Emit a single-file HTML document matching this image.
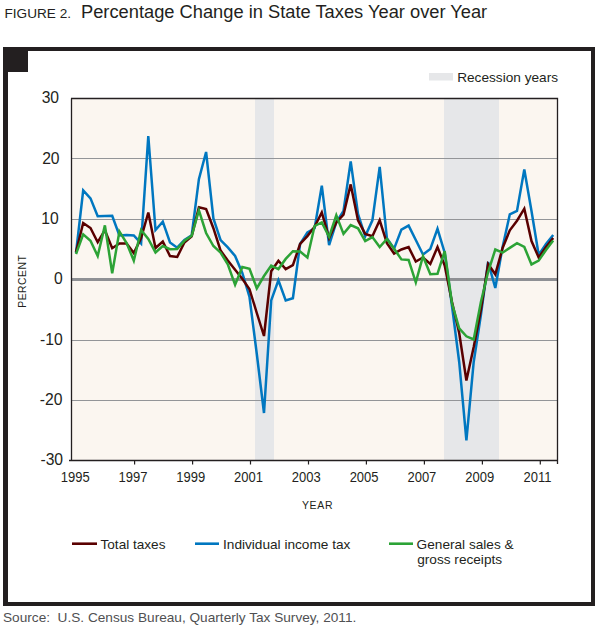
<!DOCTYPE html>
<html><head><meta charset="utf-8"><style>
html,body{margin:0;padding:0;background:#fff;}
body{width:598px;height:626px;overflow:hidden;}
svg{display:block;font-family:"Liberation Sans", sans-serif;}
</style></head><body>
<svg width="598" height="626" viewBox="0 0 598 626">
<path d="M3,47H595V606H3Z M8,51V602H591V51Z" fill="#231f20" fill-rule="evenodd"/>
<rect x="3" y="47" width="25" height="25" fill="#231f20"/>
<rect x="71.5" y="98.5" width="486" height="362" fill="#fbf6f0"/>
<rect x="255" y="98.5" width="19" height="362" fill="#e6e7e9"/>
<rect x="444" y="98.5" width="55" height="362" fill="#e6e7e9"/>
<line x1="71.5" y1="158.5" x2="557.5" y2="158.5" stroke="#939598" stroke-width="1"/>
<line x1="71.5" y1="219.5" x2="557.5" y2="219.5" stroke="#939598" stroke-width="1"/>
<line x1="71.5" y1="340.5" x2="557.5" y2="340.5" stroke="#939598" stroke-width="1"/>
<line x1="71.5" y1="400.5" x2="557.5" y2="400.5" stroke="#939598" stroke-width="1"/>
<line x1="71.5" y1="279.5" x2="557.5" y2="279.5" stroke="#8e9094" stroke-width="3"/>
<path d="M69,460.5 H557.5 M71.5,98.5 V460.5 M71,98.5 H557.5 V464" fill="none" stroke="#231f20" stroke-width="1.3"/>
<line x1="134.6" y1="460" x2="134.6" y2="464.5" stroke="#231f20" stroke-width="1.2"/>
<line x1="192.6" y1="460" x2="192.6" y2="464.5" stroke="#231f20" stroke-width="1.2"/>
<line x1="250.5" y1="460" x2="250.5" y2="464.5" stroke="#231f20" stroke-width="1.2"/>
<line x1="308.5" y1="460" x2="308.5" y2="464.5" stroke="#231f20" stroke-width="1.2"/>
<line x1="366.4" y1="460" x2="366.4" y2="464.5" stroke="#231f20" stroke-width="1.2"/>
<line x1="424.4" y1="460" x2="424.4" y2="464.5" stroke="#231f20" stroke-width="1.2"/>
<line x1="482.4" y1="460" x2="482.4" y2="464.5" stroke="#231f20" stroke-width="1.2"/>
<line x1="540.3" y1="460" x2="540.3" y2="464.5" stroke="#231f20" stroke-width="1.2"/>
<polyline points="76.0,253.0 83.2,190.4 90.5,198.4 97.7,216.3 104.9,216.0 112.2,215.7 119.4,235.5 126.6,235.0 133.8,235.5 141.1,243.4 148.3,136.0 155.5,230.0 162.8,221.7 170.0,242.5 177.2,247.7 184.4,240.0 191.7,235.2 198.9,179.2 206.1,152.0 213.4,218.5 220.6,240.1 227.8,247.4 235.1,256.0 242.3,273.0 249.5,297.0 256.8,354.0 264.0,413.0 271.2,300.4 278.4,280.3 285.7,300.4 292.9,298.2 300.1,244.0 307.4,232.5 314.6,228.2 321.8,185.6 329.1,245.2 336.3,222.4 343.5,211.0 350.7,161.4 358.0,214.0 365.2,236.3 372.4,220.3 379.7,166.9 386.9,238.3 394.1,248.7 401.4,229.6 408.6,225.6 415.8,240.0 423.0,254.5 430.3,249.0 437.5,228.8 444.7,252.7 452.0,306.0 459.2,362.0 466.4,440.4 473.7,362.0 480.9,315.0 488.1,262.0 495.3,288.0 502.6,247.0 509.8,214.4 517.0,211.0 524.3,169.5 531.5,211.0 538.7,255.0 546.0,244.0 553.2,235.0" fill="none" stroke="#0077c0" stroke-width="2.5" stroke-linejoin="miter" stroke-miterlimit="4"/>
<polyline points="76.0,252.0 83.2,223.0 90.5,228.0 97.7,242.2 104.9,230.2 112.2,248.2 119.4,243.4 126.6,243.4 133.8,253.0 141.1,238.0 148.3,212.5 155.5,248.0 162.8,241.5 170.0,256.0 177.2,257.0 184.4,242.5 191.7,236.4 198.9,207.3 206.1,209.0 213.4,228.2 220.6,250.6 227.8,260.5 235.1,269.7 242.3,278.7 249.5,289.2 256.8,313.0 264.0,336.0 271.2,271.3 278.4,260.7 285.7,269.1 292.9,265.2 300.1,244.0 307.4,236.1 314.6,226.7 321.8,212.4 329.1,238.2 336.3,222.4 343.5,214.7 350.7,184.4 358.0,220.3 365.2,233.9 372.4,236.3 379.7,220.3 386.9,243.1 394.1,253.5 401.4,249.5 408.6,247.1 415.8,261.5 423.0,257.5 430.3,263.9 437.5,247.1 444.7,265.5 452.0,302.0 459.2,333.0 466.4,380.5 473.7,347.0 480.9,310.0 488.1,264.0 495.3,274.3 502.6,248.0 509.8,230.3 517.0,220.7 524.3,208.7 531.5,241.0 538.7,257.5 546.0,247.0 553.2,238.0" fill="none" stroke="#5a0000" stroke-width="2.5" stroke-linejoin="miter" stroke-miterlimit="4"/>
<polyline points="76.0,254.0 83.2,234.3 90.5,240.7 97.7,256.0 104.9,225.4 112.2,273.3 119.4,231.4 126.6,243.0 133.8,260.7 141.1,230.0 148.3,239.0 155.5,252.4 162.8,246.0 170.0,249.2 177.2,248.9 184.4,240.8 191.7,235.8 198.9,210.4 206.1,233.0 213.4,246.0 220.6,252.7 227.8,264.3 235.1,284.8 242.3,267.0 249.5,268.8 256.8,288.3 264.0,276.0 271.2,265.6 278.4,269.1 285.7,258.9 292.9,251.2 300.1,251.5 307.4,257.6 314.6,226.0 321.8,222.4 329.1,236.8 336.3,215.3 343.5,233.9 350.7,225.1 358.0,228.3 365.2,241.1 372.4,237.1 379.7,247.1 386.9,239.0 394.1,248.7 401.4,259.4 408.6,259.9 415.8,282.3 423.0,256.2 430.3,274.3 437.5,273.8 444.7,251.1 452.0,303.5 459.2,328.4 466.4,336.3 473.7,339.5 480.9,302.0 488.1,272.0 495.3,249.5 502.6,252.7 509.8,247.9 517.0,243.1 524.3,247.0 531.5,264.4 538.7,260.6 546.0,250.0 553.2,240.5" fill="none" stroke="#2ca336" stroke-width="2.5" stroke-linejoin="miter" stroke-miterlimit="4"/>
<text x="59.1" y="103.0" text-anchor="end" font-size="15.7" fill="#231f20">30</text>
<text x="59.6" y="164.0" text-anchor="end" font-size="15.7" fill="#231f20">20</text>
<text x="58.7" y="224.0" text-anchor="end" font-size="15.7" fill="#231f20">10</text>
<text x="62.8" y="284.0" text-anchor="end" font-size="15.7" fill="#231f20">0</text>
<text x="62.8" y="344.6" text-anchor="end" font-size="15.7" fill="#231f20">-10</text>
<text x="62.4" y="404.6" text-anchor="end" font-size="15.7" fill="#231f20">-20</text>
<text x="63.1" y="464.6" text-anchor="end" font-size="15.7" fill="#231f20">-30</text>
<text transform="translate(75.2,482) scale(1,1.07)" text-anchor="middle" font-size="13" fill="#231f20">1995</text>
<text transform="translate(133.0,482) scale(1,1.07)" text-anchor="middle" font-size="13" fill="#231f20">1997</text>
<text transform="translate(190.8,482) scale(1,1.07)" text-anchor="middle" font-size="13" fill="#231f20">1999</text>
<text transform="translate(248.5,482) scale(1,1.07)" text-anchor="middle" font-size="13" fill="#231f20">2001</text>
<text transform="translate(306.3,482) scale(1,1.07)" text-anchor="middle" font-size="13" fill="#231f20">2003</text>
<text transform="translate(364.1,482) scale(1,1.07)" text-anchor="middle" font-size="13" fill="#231f20">2005</text>
<text transform="translate(421.9,482) scale(1,1.07)" text-anchor="middle" font-size="13" fill="#231f20">2007</text>
<text transform="translate(479.7,482) scale(1,1.07)" text-anchor="middle" font-size="13" fill="#231f20">2009</text>
<text transform="translate(537.4,482) scale(1,1.07)" text-anchor="middle" font-size="13" fill="#231f20">2011</text>
<text x="317.6" y="509" text-anchor="middle" font-size="10.5" letter-spacing="0.7" fill="#231f20">YEAR</text>
<text transform="translate(25.8,281.2) rotate(-90)" text-anchor="middle" font-size="10.4" letter-spacing="0.5" fill="#231f20">PERCENT</text>
<text x="4.5" y="17.6" font-size="13.6" fill="#231f20">FIGURE 2.</text>
<text x="81" y="18.1" font-size="18.3" fill="#231f20">Percentage Change in State Taxes Year over Year</text>
<rect x="429" y="73" width="24" height="7.5" fill="#e6e7e9"/>
<text x="457.2" y="81.5" font-size="13.65" fill="#231f20">Recession years</text>
<line x1="72" y1="543.7" x2="97" y2="543.7" stroke="#5a0000" stroke-width="2.6"/>
<text x="100.5" y="549" font-size="13.6" fill="#231f20">Total taxes</text>
<line x1="195" y1="543.7" x2="219" y2="543.7" stroke="#0077c0" stroke-width="2.6"/>
<text x="223" y="549" font-size="13.65" fill="#231f20">Individual income tax</text>
<line x1="389" y1="543.7" x2="413" y2="543.7" stroke="#2ca336" stroke-width="2.6"/>
<text x="416.6" y="549" font-size="13.65" fill="#231f20">General sales &amp;</text>
<text x="417.2" y="564.2" font-size="13.65" fill="#231f20">gross receipts</text>
<text x="3" y="621.8" font-size="13.65" fill="#505052" xml:space="preserve">Source:  U.S. Census Bureau, Quarterly Tax Survey, 2011.</text>
</svg>
</body></html>
